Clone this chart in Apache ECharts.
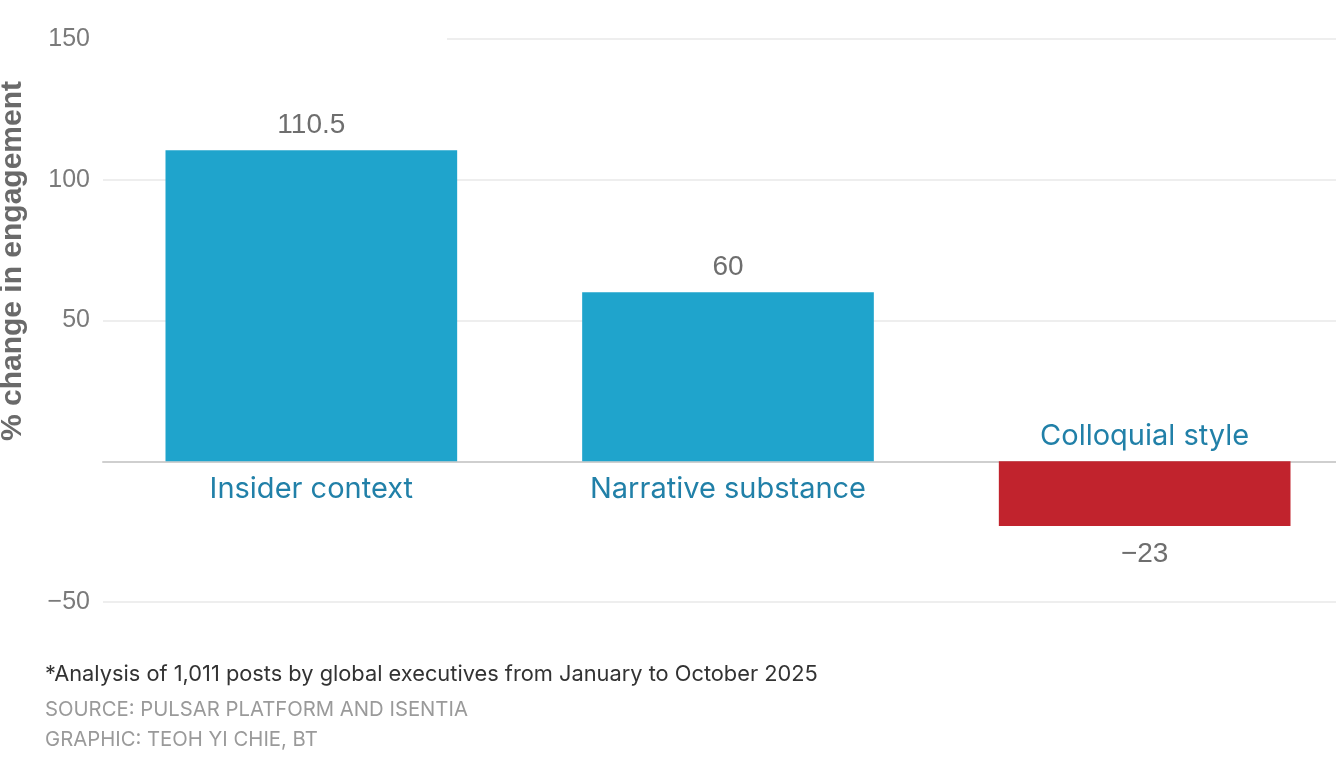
<!DOCTYPE html>
<html>
<head>
<meta charset="utf-8">
<script src="https://cdn.jsdelivr.net/npm/echarts@6/dist/echarts.min.js"></script>
<style>
  html, body { margin: 0; padding: 0; background: #fff; }
  #chart { width: 1336px; height: 758px; }
</style>
</head>
<body>
<div id="chart"></div>
<script>
// datos
const categorias = ['Insider context', 'Narrative substance', 'Colloquial style'];
const valores = [110.5, 60, -23];
const colores = ['#1fa4cc', '#1fa4cc', '#c1232d'];
const yTicks = [-50, 0, 50, 100, 150];
const nota = '*Analysis of 1,011 posts by global executives from January to October 2025';
const fuente = 'SOURCE: PULSAR PLATFORM AND ISENTIA';
const grafico = 'GRAPHIC: TEOH YI CHIE, BT';
const tituloEje = '% change in engagement';

const fmtNum = v => String(v).replace('-', '\u2212');

const chart = echarts.init(document.getElementById('chart'));

// serie con valores
const barData = valores.map((v, i) => ({
  value: v,
  itemStyle: { color: colores[i] },
  label: { position: v >= 0 ? 'top' : 'bottom', distance: v >= 0 ? 11 : 14 }
}));

// serie transparente solo para las etiquetas de categoría
const catData = valores.map((v, i) => ({
  value: v,
  label: { position: v >= 0 ? 'bottom' : 'top', formatter: categorias[i], distance: v >= 0 ? 14 : 10 }
}));

const option = {
  backgroundColor: '#fff',
  animation: false,
  // el eje de categorías sigue más allá del borde derecho
  grid: { left: 103, width: 1250, top: 39, bottom: 156, outerBoundsMode: 'none' },
  xAxis: {
    type: 'category',
    data: categorias,
    axisLine: { show: true, onZero: true, lineStyle: { color: '#cfcfcf', width: 2 } },
    axisTick: { show: false },
    axisLabel: { show: false },
    splitLine: { show: false }
  },
  yAxis: {
    type: 'value',
    min: yTicks[0],
    max: yTicks[yTicks.length - 1],
    interval: 50,
    axisLine: { show: false },
    axisTick: { show: false },
    axisLabel: {
      margin: 13,
      color: '#7a7a7a',
      fontSize: 25,
      fontFamily: 'Liberation Sans',
      formatter: v => (v === 0 ? '' : fmtNum(v))
    },
    splitLine: { lineStyle: { color: '#e8e8e8', width: 1.5 } }
  },
  series: [
    {
      type: 'bar',
      data: barData,
      barWidth: '70%',
      barGap: '-100%',
      label: {
        show: true,
        color: '#6e6e6e',
        fontSize: 28,
        fontFamily: 'Liberation Sans',
        formatter: p => fmtNum(p.value)
      }
    },
    {
      type: 'bar',
      data: catData,
      barWidth: '70%',
      barGap: '-100%',
      silent: true,
      itemStyle: { color: 'rgba(0,0,0,0)' },
      label: {
        show: true,
        color: '#2180a8',
        fontSize: 29,
        fontFamily: 'Inter'
      }
    }
  ],
  graphic: [
    // la línea de 150 empieza a la derecha en el original
    { type: 'rect', left: 95, top: 34, shape: { width: 352, height: 10 }, style: { fill: '#fff' }, z: 100 },
    {
      type: 'text',
      x: 13, y: 261,
      rotation: Math.PI / 2,
      style: {
        text: tituloEje,
        fill: '#6a6a6a',
        font: 'bold 30px "Liberation Sans"',
        align: 'center',
        verticalAlign: 'middle'
      }
    },
    { type: 'text', left: 45, top: 663, style: { text: nota, fill: '#333', font: '21.8px Inter' } },
    { type: 'text', left: 45, top: 700, style: { text: fuente, fill: '#9a9a9a', font: '20.3px Inter' } },
    { type: 'text', left: 45, top: 730, style: { text: grafico, fill: '#9a9a9a', font: '20.3px Inter' } }
  ]
};

chart.setOption(option);
window.addEventListener('resize', () => chart.resize());
</script>
</body>
</html>
